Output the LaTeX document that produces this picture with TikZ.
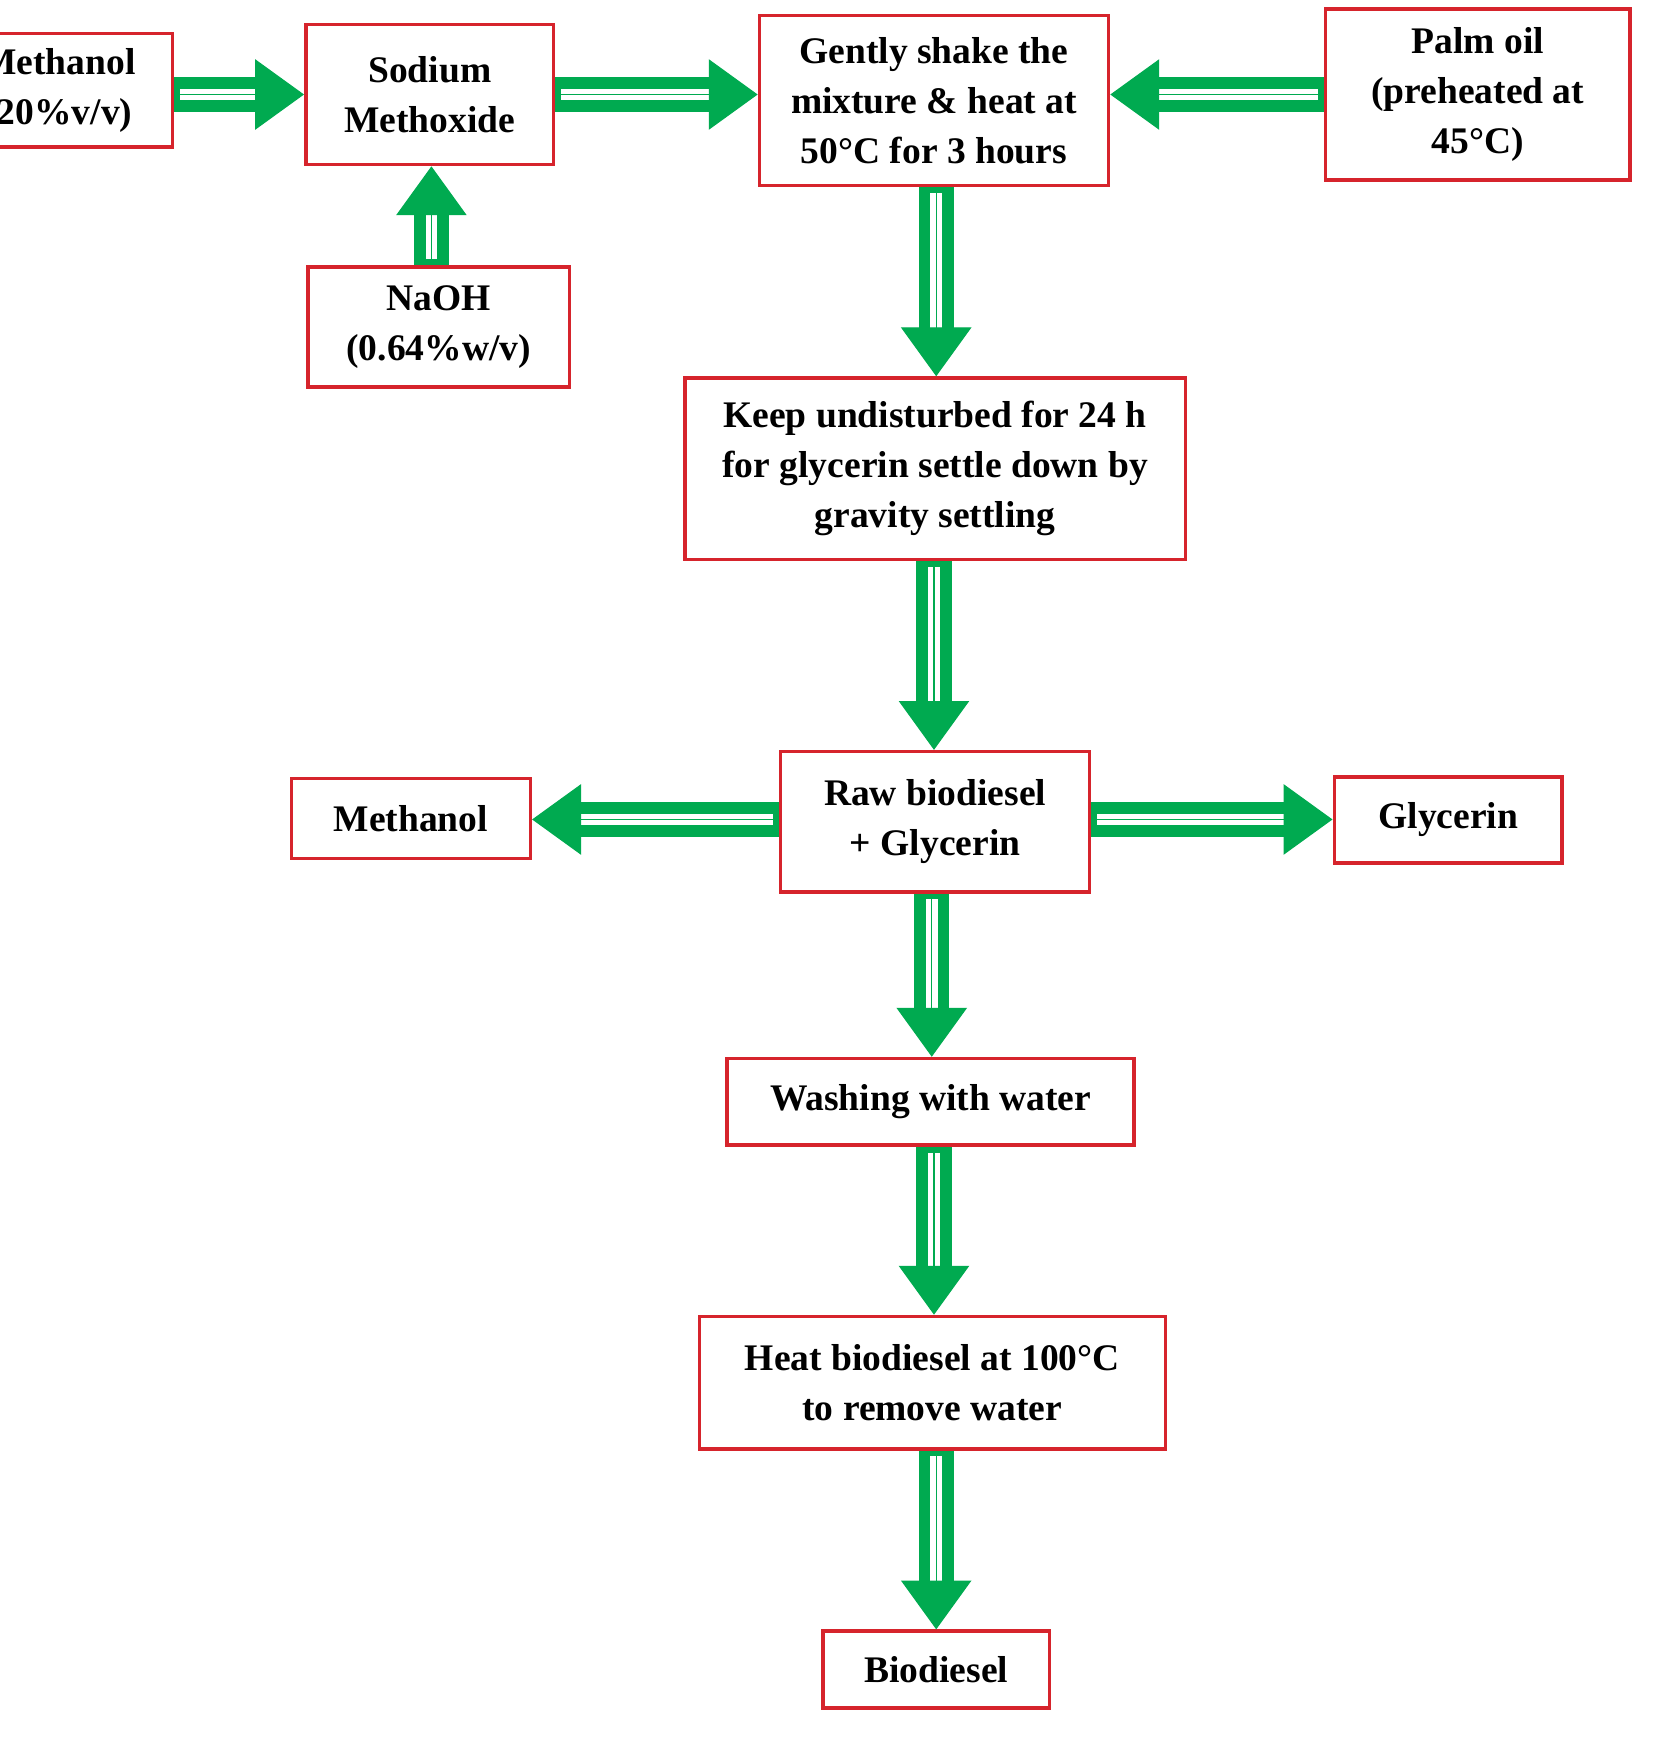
\documentclass[tikz,border=0pt]{standalone}
\usepackage{fontspec}
\setmainfont{Liberation Serif}
\usetikzlibrary{arrows.meta}
\definecolor{bx}{RGB}{214,36,44}
\definecolor{gr}{RGB}{0,170,80}
\begin{document}
\begin{tikzpicture}[x=0.01cm,y=-0.01cm,
  box/.style={draw=bx,line width=0.9pt,fill=white,align=center,inner sep=0pt,
    font=\fontsize{9.6}{12.8}\selectfont\bfseries},
  sh/.style={draw=gr,line width=9pt,shorten >=11pt},
  inr/.style={draw=white,line width=3pt,shorten >=12pt,shorten <=1.5pt},
  hd/.style={draw=gr,fill=gr,line width=0.3pt,-{Triangle[length=12.5pt,width=18pt]}}]
\useasboundingbox (0,0) rectangle (1510,1582);
\newcommand{\bx}[6]{\node[box,minimum width={(#4-#2)*0.01cm},minimum height={(#5-#3)*0.01cm}] (#1) at ({(#2+#4)/2},{(#3+#5)/2}) {#6};}
\bx{m1}{-60}{30}{155}{132}{\hspace*{0.1cm}Methanol\\\hspace*{0.1cm}(20\%v/v)}
\bx{sm}{275}{22}{498}{148}{Sodium\\Methoxide}
\bx{na}{277}{240}{512}{348}{NaOH\\(0.64\%w/v)}
\bx{gs}{683}{14}{997}{167}{Gently shake the\\mixture \& heat at\\50°C for 3 hours}
\bx{po}{1192}{8}{1466}{162}{Palm oil\\(preheated at\\45°C)}
\bx{ku}{616}{340}{1066}{503}{Keep undisturbed for 24 h\\for glycerin settle down by\\gravity settling}
\bx{rb}{702}{676}{980}{802}{Raw biodiesel\\+ Glycerin}
\bx{m2}{262}{700}{477}{772}{Methanol}
\bx{gl}{1200}{699}{1405}{776}{Glycerin}
\bx{ww}{654}{952}{1020}{1030}{Washing with water}
\bx{hb}{629}{1184}{1048}{1303}{Heat biodiesel at 100°C\\to remove water}
\bx{bd}{740}{1467}{944}{1536}{Biodiesel}
\newcommand{\barr}[2]{\draw[sh] #1 -- #2; \draw[inr] #1 -- #2; \draw[hd] #1 -- #2;}
\barr{(m1.east|-0,85)}{(sm.west|-0,85)}
\barr{(sm.east|-0,85)}{(gs.west|-0,85)}
\barr{(po.west|-0,85)}{(gs.east|-0,85)}
\barr{(388,0|-na.north)}{(388,0|-sm.south)}
\barr{(842,0|-gs.south)}{(842,0|-ku.north)}
\barr{(840,0|-ku.south)}{(840,0|-rb.north)}
\barr{(rb.west|-0,737)}{(m2.east|-0,737)}
\barr{(rb.east|-0,737)}{(gl.west|-0,737)}
\barr{(838,0|-rb.south)}{(838,0|-ww.north)}
\barr{(840,0|-ww.south)}{(840,0|-hb.north)}
\barr{(842,0|-hb.south)}{(842,0|-bd.north)}
\end{tikzpicture}
\end{document}
